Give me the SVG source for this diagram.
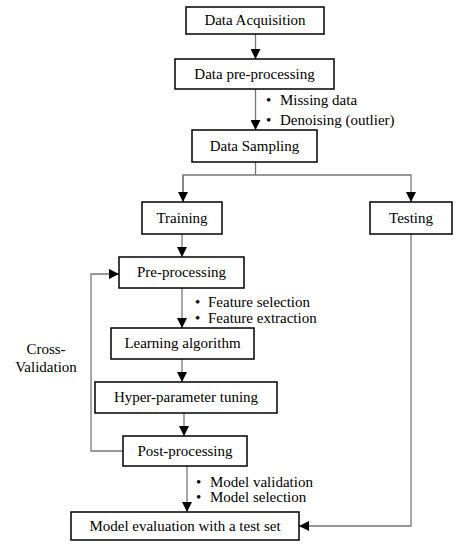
<svg xmlns="http://www.w3.org/2000/svg" width="460" height="550" viewBox="0 0 460 550">
<style>
.box{fill:#fff;stroke:#000;stroke-width:1.5}
.c{stroke:#777;stroke-width:1.3;fill:none}
</style>
<defs>
<marker id="ah" viewBox="0 0 10 10" refX="10" refY="5" markerWidth="10" markerHeight="10" markerUnits="userSpaceOnUse" orient="auto">
<path d="M0,0 L10,5 L0,10 Z" fill="#000"/>
</marker>
</defs>
<rect width="460" height="550" fill="#fff"/>
<g id="connectors">
<line class="c" x1="255.5" y1="34" x2="255.5" y2="59" marker-end="url(#ah)"/>
<line class="c" x1="255.5" y1="89" x2="255.5" y2="130" marker-end="url(#ah)"/>
<polyline class="c" points="255.5,162 255.5,175"/>
<polyline class="c" points="183,202 183,175 411,175 411,202" marker-end="url(#ah)"/>
<line class="c" x1="183" y1="175" x2="183" y2="202" marker-end="url(#ah)"/>
<line class="c" x1="182" y1="234" x2="182" y2="257" marker-end="url(#ah)"/>
<line class="c" x1="182" y1="288" x2="182" y2="328" marker-end="url(#ah)"/>
<line class="c" x1="182" y1="359" x2="182" y2="382" marker-end="url(#ah)"/>
<line class="c" x1="184" y1="413" x2="184" y2="436" marker-end="url(#ah)"/>
<line class="c" x1="187" y1="466" x2="187" y2="512" marker-end="url(#ah)"/>
<polyline class="c" points="123,451 91,451 91,274 119,274" marker-end="url(#ah)"/>
<polyline class="c" points="411,234 411,526 299,526" marker-end="url(#ah)"/>
</g>
<g font-family="Liberation Serif, Times New Roman, serif" font-size="15" fill="#000">
<g id="n-acq"><rect class="box" x="186" y="7" width="138" height="27"/><text x="255" y="25" text-anchor="middle">Data Acquisition</text></g>
<g id="n-pre"><rect class="box" x="175" y="59" width="159" height="30"/><text x="254.5" y="79" text-anchor="middle">Data pre-processing</text></g>
<g id="n-pre-notes"><text x="266" y="105">•</text><text x="280" y="105">Missing data</text><text x="266" y="125">•</text><text x="280" y="125">Denoising (outlier)</text></g>
<g id="n-samp"><rect class="box" x="192" y="130" width="125" height="32"/><text x="254.5" y="151" text-anchor="middle">Data Sampling</text></g>
<g id="n-train"><rect class="box" x="142" y="202" width="80" height="32"/><text x="182" y="223" text-anchor="middle">Training</text></g>
<g id="n-test"><rect class="box" x="370" y="202" width="82" height="32"/><text x="411" y="223" text-anchor="middle">Testing</text></g>
<g id="n-pp"><rect class="box" x="119" y="257" width="125" height="31"/><text x="181.5" y="277" text-anchor="middle">Pre-processing</text></g>
<g id="n-pp-notes"><text x="195" y="307">•</text><text x="208" y="307">Feature selection</text><text x="195" y="323">•</text><text x="208" y="323">Feature extraction</text></g>
<g id="n-cv"><text x="46" y="354" text-anchor="middle">Cross-</text><text x="46" y="372" text-anchor="middle">Validation</text></g>
<g id="n-learn"><rect class="box" x="111" y="328" width="143" height="31"/><text x="182.5" y="348" text-anchor="middle">Learning algorithm</text></g>
<g id="n-hyper"><rect class="box" x="95" y="382" width="182" height="31"/><text x="186" y="402" text-anchor="middle">Hyper-parameter tuning</text></g>
<g id="n-post"><rect class="box" x="123" y="436" width="124" height="30"/><text x="185" y="456" text-anchor="middle">Post-processing</text></g>
<g id="n-post-notes"><text x="196" y="487">•</text><text x="210" y="487">Model validation</text><text x="196" y="502">•</text><text x="210" y="502">Model selection</text></g>
<g id="n-eval"><rect class="box" x="71" y="512" width="228" height="28"/><text x="185" y="531" text-anchor="middle">Model evaluation with a test set</text></g>
</g>
</svg>
